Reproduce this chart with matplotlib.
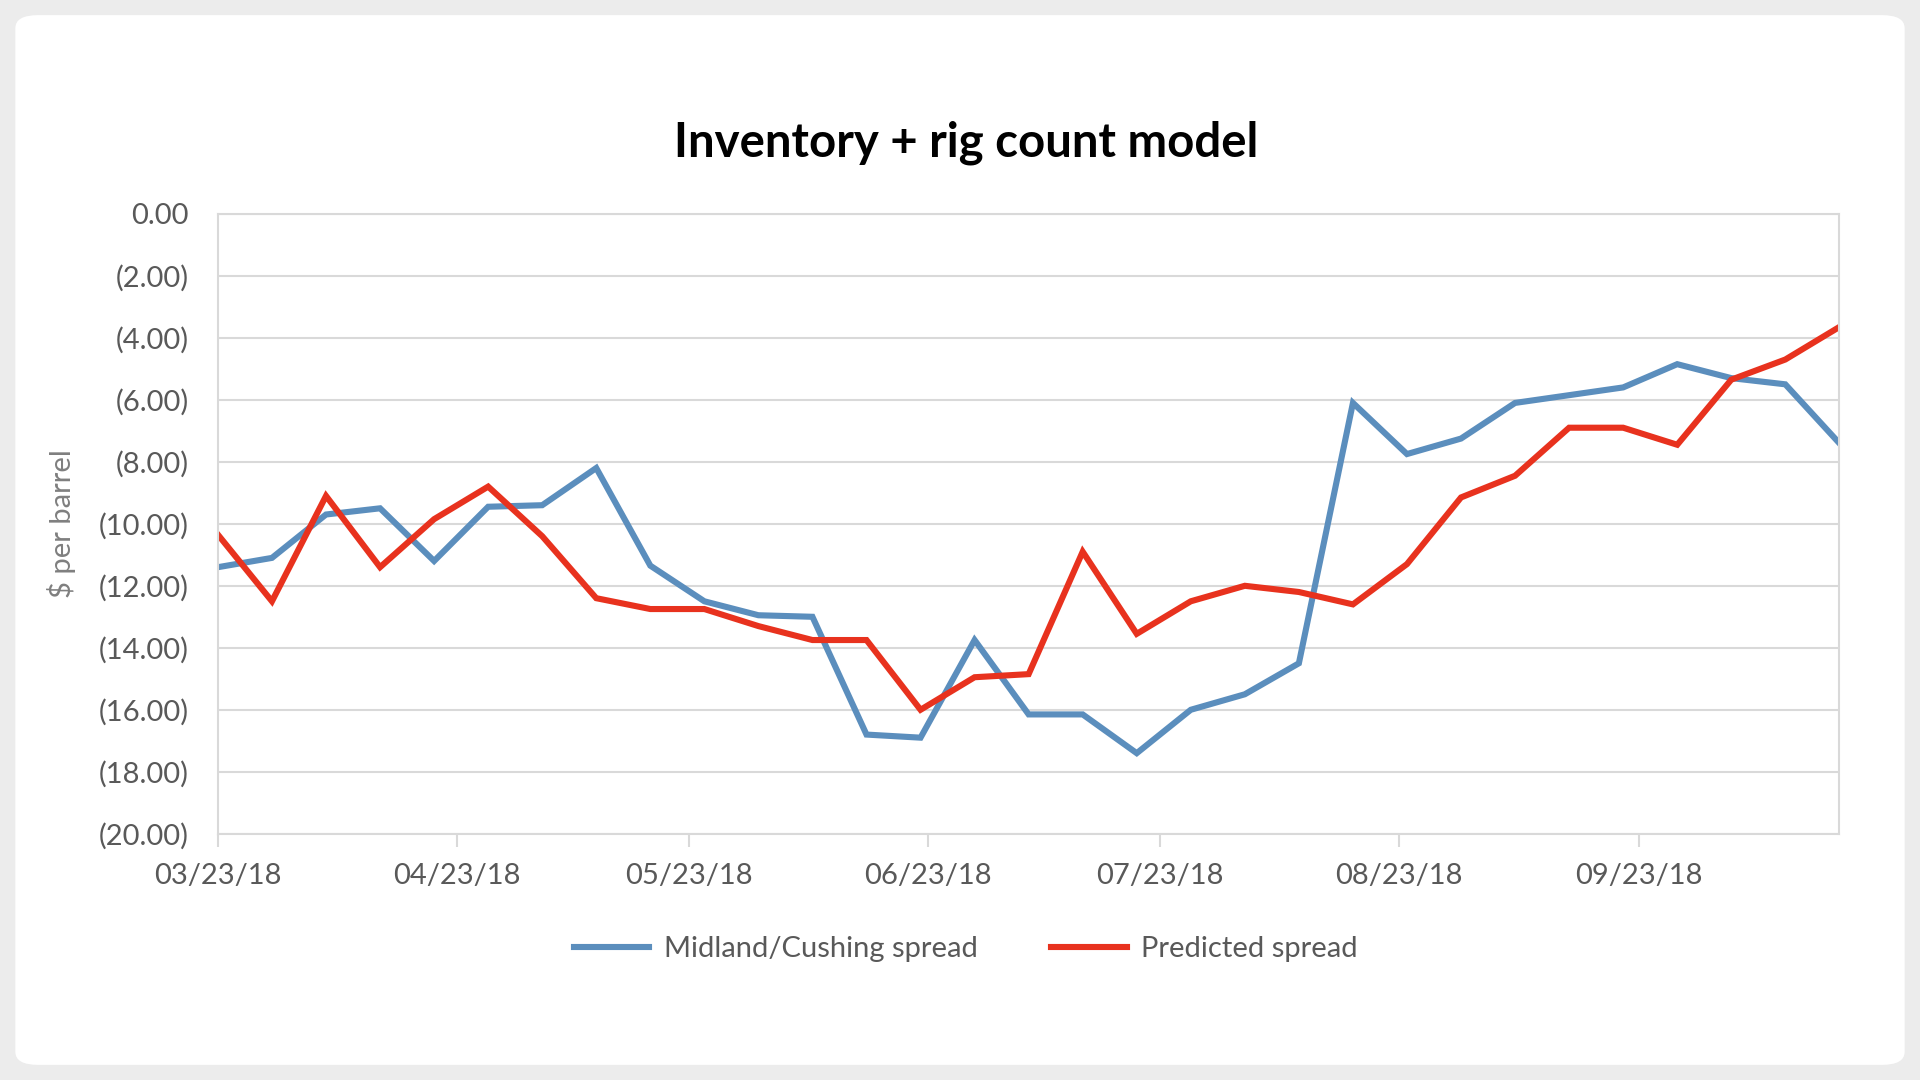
import matplotlib
matplotlib.use("Agg")
import matplotlib.pyplot as plt
import matplotlib.dates as mdates
from matplotlib.patches import FancyBboxPatch
import pandas as pd

# --- datos (semanales, desde 03/23/18) ---
fechas = pd.date_range("2018-03-23", periods=31, freq="7D")

midland_cushing = [-11.4, -11.1, -9.7, -9.5, -11.2, -9.45, -9.4, -8.2, -11.35, -12.5,
                   -12.95, -13.0, -16.8, -16.9, -13.75, -16.15, -16.15, -17.4, -16.0, -15.5,
                   -14.5, -6.1, -7.75, -7.25, -6.1, -5.85, -5.6, -4.85, -5.3, -5.5, -7.4]

predicted = [-10.35, -12.5, -9.1, -11.4, -9.85, -8.8, -10.4, -12.4, -12.75, -12.75,
             -13.3, -13.75, -13.75, -16.0, -14.95, -14.85, -10.9, -13.55, -12.5, -12.0,
             -12.2, -12.6, -11.3, -9.15, -8.45, -6.9, -6.9, -7.45, -5.35, -4.7, -3.65]

y_ticks = [0, -2, -4, -6, -8, -10, -12, -14, -16, -18, -20]

plt.rcParams['font.family'] = ['Lato', 'DejaVu Sans']

fig = plt.figure(figsize=(19.2, 10.8), dpi=100)
fig.patch.set_facecolor("#ececec")

# tarjeta blanca con esquinas redondeadas (detrás de todo)
card = FancyBboxPatch((0.008, 0.014), 0.984, 0.972,
                      boxstyle="round,pad=0,rounding_size=0.012",
                      transform=fig.transFigure, facecolor="white",
                      edgecolor="none", zorder=-10)
fig.patches.append(card)

ax = fig.add_axes([0.1135, 0.228, 0.8445, 0.574])
ax.set_facecolor("white")

ax.plot(fechas, midland_cushing, color="#5b8ebd", linewidth=4.4,
        label="Midland/Cushing spread", solid_joinstyle="miter")
ax.plot(fechas, predicted, color="#e8321e", linewidth=4.4,
        label="Predicted spread", solid_joinstyle="miter")

ax.set_xlim(fechas[0], fechas[-1])
ax.set_ylim(-20, 0)
ax.set_yticks(y_ticks)
ax.set_yticklabels(["0.00" if v == 0 else f"({abs(v):.2f})" for v in y_ticks])

ax.xaxis.set_major_locator(mdates.MonthLocator(bymonthday=23))
ax.xaxis.set_major_formatter(mdates.DateFormatter("%m/%d/%y"))

ax.grid(axis="y", color="#d9d9d9", linewidth=1.5)
ax.set_axisbelow(True)
for s in ax.spines.values():
    s.set_color("#d9d9d9")
    s.set_linewidth(1.5)

ax.tick_params(axis="y", length=0, pad=21, labelsize=21, labelcolor="#595959")
ax.tick_params(axis="x", length=9, width=1.5, color="#d9d9d9", pad=12,
               labelsize=21, labelcolor="#595959")

ax.set_ylabel("$ per barrel", fontsize=21, color="#7f7f7f", labelpad=16)

fig.text(0.503, 0.868, "Inventory + rig count model", ha="center", va="center",
         fontsize=34, fontweight="bold", color="#000000")

fig.legend(loc="center", bbox_to_anchor=(0.503, 0.121), ncol=2, frameon=False,
           fontsize=21, handlelength=2.6, handletextpad=0.5, columnspacing=2.5,
           labelcolor="#595959")

fig.savefig("out.png", dpi=100, facecolor=fig.get_facecolor())
